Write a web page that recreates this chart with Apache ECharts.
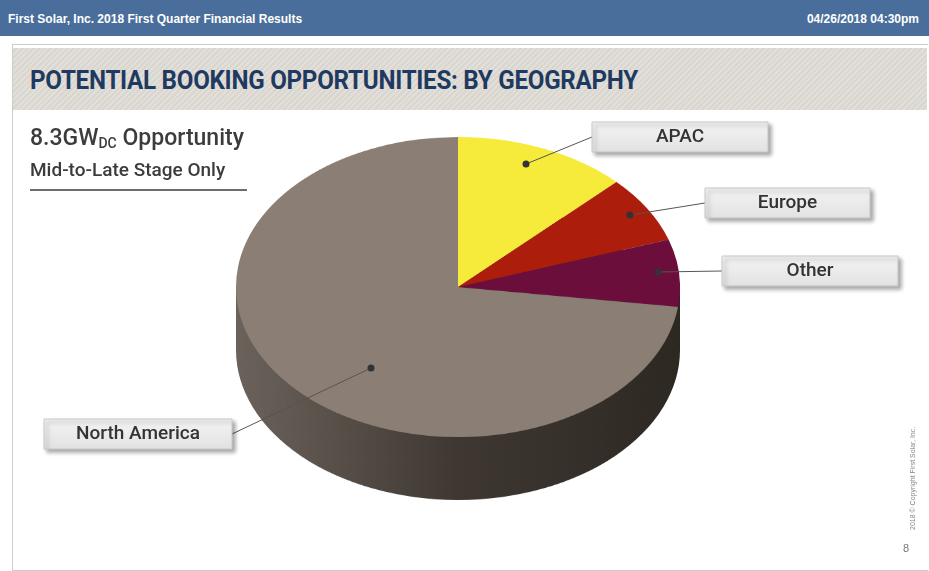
<!DOCTYPE html>
<html><head><meta charset="utf-8">
<script src="https://cdn.jsdelivr.net/npm/echarts@6/dist/echarts.min.js"></script>
<style>
body{margin:0;width:929px;height:571px;overflow:hidden;background:#fff;font-family:Arial,"Liberation Sans",sans-serif;position:relative}
#bar{position:absolute;left:0;top:0;width:929px;height:36px;background:#4a6e9b;color:#fff;font-weight:bold;font-size:12px}
#bar span{position:absolute;top:12px}
#slide{position:absolute;left:12px;top:44px;width:915px;height:525px;border:1px solid #ccc;border-right:none}
#band{position:absolute;left:13px;top:48px;width:914px;height:62px;background:repeating-linear-gradient(135deg,#e2dfda 0 2px,#d9d5cf 2px 4px)}
#band div{position:absolute;left:17px;top:17px;color:#1f3a60;font:bold 26px Roboto,sans-serif;letter-spacing:-0.3px;transform:scaleX(0.93);transform-origin:left}
#pie{position:absolute;left:236px;top:137px;width:444px;height:540px;transform:scaleY(0.676);transform-origin:top left}
#labels{position:absolute;left:0;top:0;width:929px;height:571px}
</style></head><body>
<div id="bar"><span style="left:8px">First Solar, Inc. 2018 First Quarter Financial Results</span><span style="right:10px">04/26/2018 04:30pm</span></div>
<div id="slide"></div>
<div id="band"><div>POTENTIAL BOOKING OPPORTUNITIES: BY GEOGRAPHY</div></div>
<div id="pie"></div>
<div id="labels"></div>
<script>
// 地区与数值 (GW)
var regions = ['APAC', 'Europe', 'Other', 'North America']
var values = [1.05, 0.6, 0.6, 6.05]
var colors = ['#f6ea3a', '#ad1d0c', '#6c0e3c', '#8b7f75']
// 标签位置
var boxes = [[592, 122, 176], [705, 188, 165], [722, 256, 176], [44, 419, 188]]
var dots = [[526, 164], [630, 215], [658, 272], [371, 368]]

var pieChart = echarts.init(document.getElementById('pie'))
var side = {type: 'linear', x: 0, y: 0, x2: 1, y2: 0, colorStops: [
  {offset: 0, color: '#6b635b'}, {offset: 0.5, color: '#3f3832'}, {offset: 1, color: '#2e2823'}]}
pieChart.setOption({
  animation: false,
  graphic: [{type: 'rect', z: 1, shape: {x: 0, y: 222, width: 444, height: 93}, style: {fill: side}}],
  series: [{
    type: 'pie', z: 0, silent: true, radius: 222, center: [222, 315],
    label: {show: false}, data: [{value: 1, itemStyle: {color: side}}]
  }, {
    type: 'pie', z: 3, radius: 222, center: [222, 222], startAngle: 90, clockwise: true,
    label: {show: false}, labelLine: {show: false},
    data: regions.map(function (r, i) { return {name: r, value: values[i], itemStyle: {color: colors[i]}} })
  }]
})

var labelChart = echarts.init(document.getElementById('labels'))
var g = []
// 左侧说明文字
g.push({type: 'text', left: 30, top: 128, style: {
  text: '{a|8.3GW}{s|DC}{a| Opportunity}\n{u|Mid-to-Late Stage Only}',
  rich: {
    a: {font: '500 23px Roboto, sans-serif', fill: '#3c3c3c', lineHeight: 34},
    s: {font: '500 14px Roboto, sans-serif', fill: '#3c3c3c', padding: [10, 0, 0, 0]},
    u: {font: '500 19px Roboto, sans-serif', fill: '#3c3c3c', lineHeight: 30}
  }}})
g.push({type: 'line', shape: {x1: 30, y1: 190, x2: 247, y2: 190}, style: {stroke: '#3c3c3c', lineWidth: 1.5}})
regions.forEach(function (r, i) {
  var b = boxes[i], d = dots[i]
  var ex = b[0] < d[0] ? b[0] + b[2] : b[0]
  g.push({type: 'line', z: 5, shape: {x1: d[0], y1: d[1], x2: ex, y2: b[1] + 15}, style: {stroke: '#555', lineWidth: 1}})
  g.push({type: 'circle', z: 6, shape: {cx: d[0], cy: d[1], r: 3.5}, style: {fill: '#333'}})
  g.push({type: 'rect', z: 5, shape: {x: b[0], y: b[1], width: b[2], height: 30},
    style: {fill: {type: 'linear', x: 0, y: 0, x2: 0, y2: 1, colorStops: [{offset: 0, color: '#f4f4f4'}, {offset: 1, color: '#e2e2e2'}]},
      stroke: '#c8c8c8', shadowBlur: 4, shadowOffsetX: 3, shadowOffsetY: 3, shadowColor: 'rgba(0,0,0,0.35)'}})
  g.push({type: 'text', z: 6, x: b[0] + b[2] / 2, y: b[1] + 15, style: {text: r, align: 'center', verticalAlign: 'middle',
    font: '500 19px Roboto, sans-serif', fill: '#333'}})
})
g.push({type: 'text', x: 910, y: 530, rotation: Math.PI / 2, style: {text: '2018 © Copyright First Solar, Inc.', font: '7px sans-serif', fill: '#888'}})
g.push({type: 'text', x: 903, y: 543, style: {text: '8', font: '11px sans-serif', fill: '#777'}})
labelChart.setOption({animation: false, graphic: g})
</script>
</body></html>
